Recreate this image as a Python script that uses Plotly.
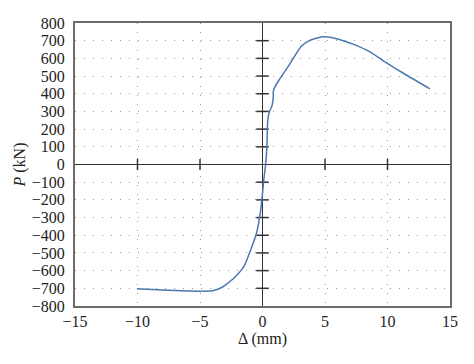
import plotly.graph_objects as go

# Data
delta_mm = [-10.05, -8.0, -6.0, -5.0, -4.0, -3.3, -2.8, -2.3, -1.5, -0.9, -0.45, -0.2, -0.05,
            0.1, 0.25, 0.35, 0.42, 0.55, 0.75, 0.85, 0.87, 1.0, 1.3, 2.2, 3.1, 3.6, 4.3,
            5.0, 6.0, 7.3, 8.6, 9.7, 11.5, 13.4]
load_kN = [-703, -710, -715, -717, -714, -697, -672, -643, -577, -474, -380, -285, -200,
           -88, 0, 100, 250, 298, 330, 370, 415, 440, 475, 570, 668, 695, 714,
           722, 710, 679, 637, 585, 506, 428]

x_ticks = [-15, -10, -5, 0, 5, 10, 15]
y_ticks = list(range(-800, 801, 100))
x_cross_ticks = [-10, -5, 5, 10]
y_cross_ticks = [v for v in y_ticks if v not in (0, -800, 800)]

FONT = "Times New Roman"
AX = "#6b6b6b"
TICKFONT = dict(family=FONT, size=16, color="#222")

fig = go.Figure()

# cross ticks on zero lines
fig.add_trace(go.Scatter(
    x=[0] * len(y_cross_ticks), y=y_cross_ticks, mode="markers",
    marker=dict(symbol="line-ew", size=9, line=dict(color="#333", width=1.5)),
    hoverinfo="skip", showlegend=False))
fig.add_trace(go.Scatter(
    x=x_cross_ticks, y=[0] * len(x_cross_ticks), mode="markers",
    marker=dict(symbol="line-ns", size=8, line=dict(color="#333", width=1.5)),
    hoverinfo="skip", showlegend=False))

fig.add_trace(go.Scatter(
    x=delta_mm, y=load_kN, mode="lines",
    line=dict(color="#4a78b0", width=1.5, shape="spline", smoothing=0.6),
    showlegend=False))

fig.update_layout(
    template="none",
    width=474, height=364,
    margin=dict(l=67, r=32, t=15, b=66, autoexpand=False),
    paper_bgcolor="white", plot_bgcolor="white",
    font=dict(family=FONT, size=16, color="#222"),
)
fig.update_xaxes(
    range=[-15, 15], tickvals=x_ticks, showgrid=True, tickfont=TICKFONT,
    gridcolor="#9a9a9a", griddash="1px,8px", gridwidth=1,
    zeroline=True, zerolinecolor="#333", zerolinewidth=1.2,
    showline=True, linecolor=AX, linewidth=2, mirror=True,
    ticks="", ticklabelstandoff=0,
    title=dict(text="Δ (mm)", font=dict(family=FONT, size=16, color="#222"), standoff=4),
)
fig.update_yaxes(
    range=[-800, 800], tickvals=y_ticks, showgrid=True, tickfont=TICKFONT,
    gridcolor="#9a9a9a", griddash="1px,8px", gridwidth=1,
    zeroline=True, zerolinecolor="#333", zerolinewidth=1.2,
    showline=True, linecolor=AX, linewidth=2, mirror=True,
    ticks="", ticklabelstandoff=5,
    title=dict(text="<i>P</i> (kN)", font=dict(family=FONT, size=16, color="#222"), standoff=2),
)

fig.write_html("out.html")
